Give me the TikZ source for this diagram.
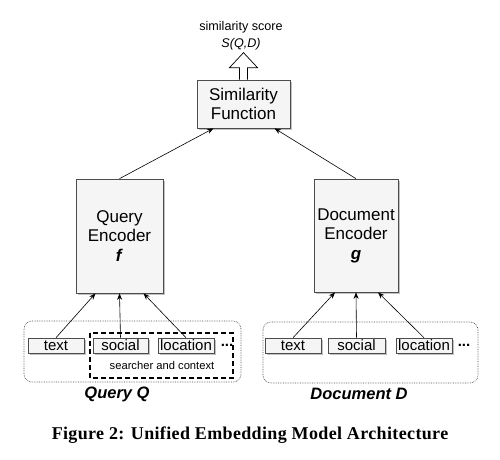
\documentclass[tikz,border=0pt]{standalone}
\usepackage{fontspec}
\setsansfont{Liberation Sans}
\newfontfamily\captionfont[LetterSpace=2]{Liberation Serif}
\usetikzlibrary{arrows.meta}
\usetikzlibrary{shadows}
\tikzset{
    boxshadow/.style={drop shadow={shadow xshift=1.5pt, shadow yshift=-1.5pt, fill=black!40, opacity=.6}},
    encbox/.style={draw=black!70, line width=.7pt, fill=black!4, boxshadow, align=center,
        inner sep=0pt, font=\sffamily\fontsize{17}{19.5}\selectfont},
    featbox/.style={draw=black!70, line width=.6pt, fill=black!4, boxshadow, inner sep=0pt,
        minimum height=15pt, font=\sffamily\fontsize{15}{15}\selectfont},
    feed/.style={-{Stealth[length=6.5pt,width=5pt]}, line width=.6pt},
    groupbox/.style={draw=black!70, densely dotted, line width=.7pt, rounded corners=8pt},
    grouplabel/.style={font=\sffamily\bfseries\itshape\fontsize{16.5}{18}\selectfont},
    dots/.style={font=\sffamily\bfseries\fontsize{15}{15}\selectfont},
}
\begin{document}
\begin{tikzpicture}[x=1pt, y=-1pt]
    \useasboundingbox (0,0) rectangle (500,459);
    % Gruppen Query und Document
    \draw[groupbox] (24,321) rectangle (241,382);
    \draw[groupbox] (263,322) rectangle (478,383);
    \draw[dash pattern=on 5pt off 3pt, line width=1.2pt] (90,333) rectangle (233,378);
    % Aehnlichkeit
    \node[encbox, minimum width=93pt, minimum height=48pt] (sim) at (243.5,104) {Similarity\\Function};
    \node[align=center, font=\sffamily\fontsize{12.6}{17}\selectfont] (score) at (241,36)
        {similarity score\\\textit{S(Q,D)}};
    \draw[line width=.7pt, fill=white]
        ([xshift=-4pt]sim.north) -- ++(0,-12) -- ++(-10,0) -- ([yshift=27pt]sim.north)
        -- ++(14,15) -- ++(-10,0) -- ([xshift=4pt]sim.north);
    % Encoder
    \node[encbox, minimum width=87pt, minimum height=114pt] (qenc) at (119.5,236)
        {Query\\Encoder\\\textbf{\textit{f}}};
    \node[encbox, minimum width=84pt, minimum height=113pt] (denc) at (356,235.5)
        {Document\\Encoder\\\textbf{\textit{g}}};
    \draw[feed] (qenc.north) -- ([xshift=-30pt]sim.south);
    \draw[feed] (denc.north) -- ([xshift=31pt]sim.south);
    % Merkmale Query
    \node[featbox, minimum width=56pt] (qtext) at (56,345.5) {text};
    \node[featbox, minimum width=55pt] (qsocial) at (120.5,345.5) {social};
    \node[featbox, minimum width=56pt] (qloc) at (186,345.5) {location};
    \node[dots] (qdots) at (227,345) {...};
    \node[font=\sffamily\fontsize{11.2}{12}\selectfont] (ctx) at (162,365) {searcher and context};
    \draw[feed] (qtext.north) -- ([xshift=-24pt]qenc.south);
    \draw[feed] (qsocial.north) -- (qenc.south);
    \draw[feed] (qloc.north) -- ([xshift=24pt]qenc.south);
    % Merkmale Document
    \node[featbox, minimum width=56pt] (dtext) at (293,345.5) {text};
    \node[featbox, minimum width=57pt] (dsocial) at (356.5,345.5) {social};
    \node[featbox, minimum width=56pt] (dloc) at (424,345.5) {location};
    \node[dots] (ddots) at (464,345) {...};
    \draw[feed] (dtext.north) -- ([xshift=-21pt]denc.south);
    \draw[feed] (dsocial.north) -- (denc.south);
    \draw[feed] (dloc.north) -- ([xshift=22pt]denc.south);
    % Beschriftungen
    \node[grouplabel] (qlabel) at (117,394) {Query Q};
    \node[grouplabel] (dlabel) at (359,394) {Document D};
    \node[font=\captionfont\bfseries\fontsize{18}{20}\selectfont] (caption) at (250,435)
        {Figure 2: Unified Embedding Model Architecture};
\end{tikzpicture}
\end{document}
